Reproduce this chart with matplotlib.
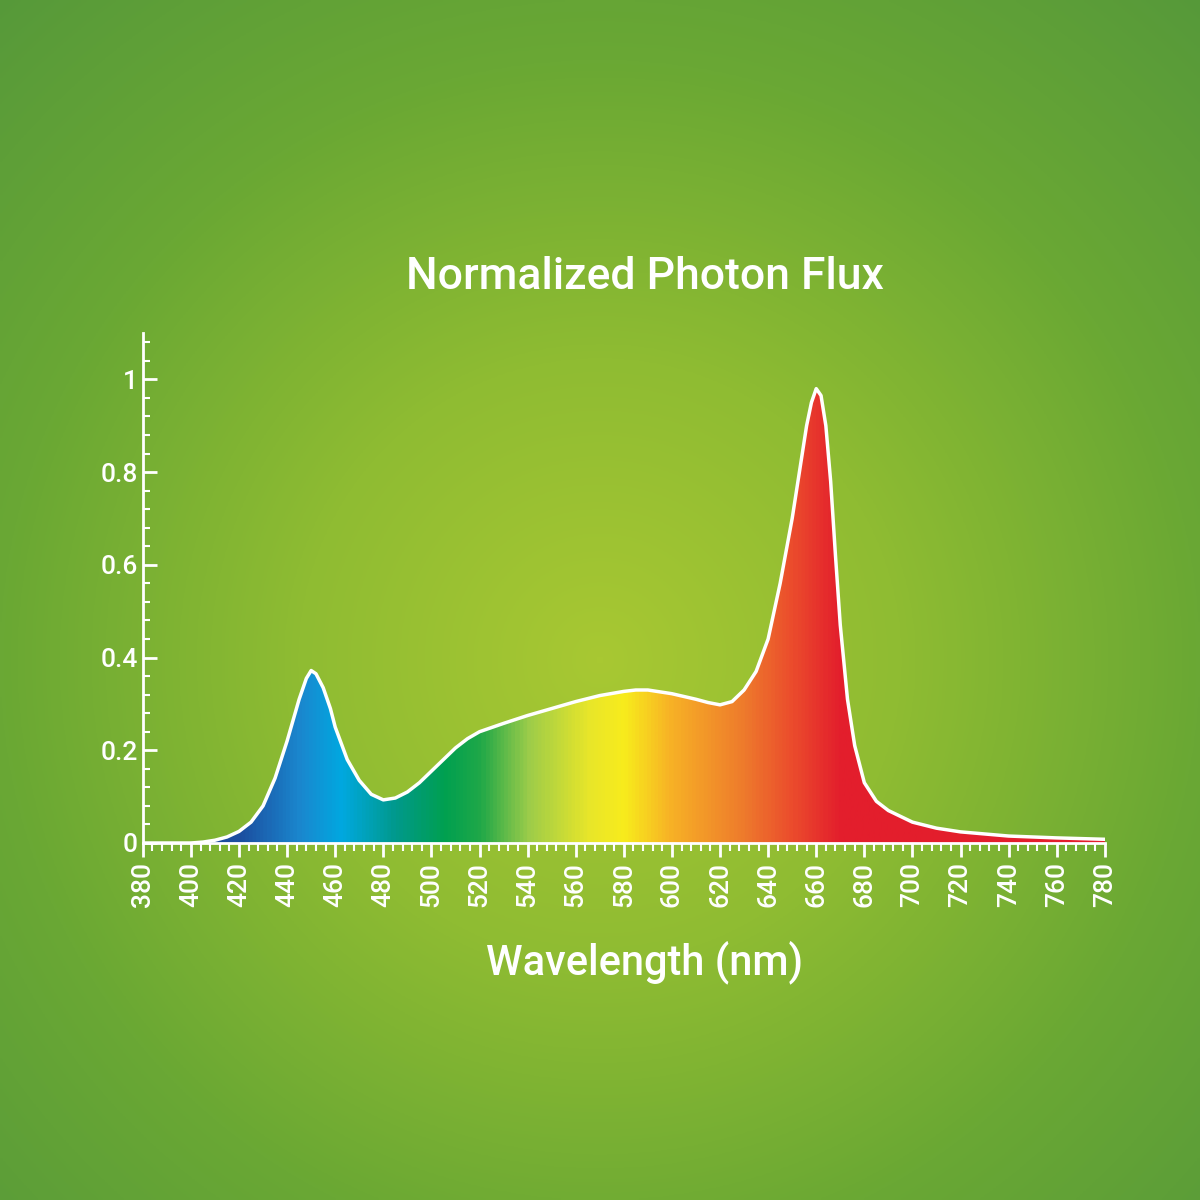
import numpy as np
import matplotlib.pyplot as plt
from matplotlib.colors import LinearSegmentedColormap

wavelength = [380, 400, 405, 410, 415, 420, 425, 430, 435, 440, 445, 448, 450, 452, 455, 458,
              460, 465, 470, 475, 480, 485, 490, 495, 500, 505, 510, 515, 520, 530, 540, 550,
              560, 570, 580, 585, 590, 600, 610, 615, 620, 625, 630, 635, 640, 645, 650, 653,
              656, 658, 660, 662, 664, 666, 668, 670, 673, 676, 680, 685, 690, 700, 710, 720,
              740, 760, 780]
flux = [0.0, 0.0, 0.002, 0.006, 0.013, 0.025, 0.045, 0.08, 0.14, 0.22, 0.31, 0.355, 0.372, 0.365,
        0.335, 0.29, 0.25, 0.18, 0.135, 0.105, 0.093, 0.097, 0.11, 0.13, 0.155, 0.18, 0.205,
        0.225, 0.24, 0.258, 0.275, 0.29, 0.305, 0.318, 0.327, 0.33, 0.33, 0.322, 0.31, 0.303,
        0.298, 0.305, 0.33, 0.37, 0.44, 0.56, 0.70, 0.80, 0.90, 0.95, 0.98, 0.965, 0.90, 0.78,
        0.62, 0.47, 0.31, 0.21, 0.13, 0.09, 0.07, 0.045, 0.032, 0.024, 0.015, 0.011, 0.008]

spec_pos = [380, 420, 445, 462, 485, 505, 520, 540, 565, 580, 600, 630, 650, 670, 780]
spec_col = ['#1c3f95', '#1c4fa0', '#1a88cf', '#00a8e0', '#00998a', '#00a050', '#20a848',
            '#9ccc4a', '#e8e62a', '#f8ec1c', '#f7b026', '#ee7a2c', '#eb4c2c', '#e31e2c', '#e31e2c']

fig = plt.figure(figsize=(12, 12), dpi=100)

# radial green background
bg = fig.add_axes([0, 0, 1, 1])
yy, xx = np.mgrid[0:1:400j, 0:1:400j]
r = np.sqrt((xx - 0.5) ** 2 + (yy - 0.55) ** 2)
bgmap = LinearSegmentedColormap.from_list('bg', ['#a8c832', '#8fbc32', '#6aa834', '#56993a'])
bg.imshow(r, cmap=bgmap, extent=[0, 1, 0, 1], aspect='auto', vmin=0, vmax=0.75)
bg.axis('off')

ax = fig.add_axes([0.119, 0.2975, 0.8017, 0.425])
ax.patch.set_alpha(0)
cmap = LinearSegmentedColormap.from_list(
    'spec', [((p - 380) / 400, c) for p, c in zip(spec_pos, spec_col)])
grad = np.linspace(0, 1, 800).reshape(1, -1)
im = ax.imshow(grad, cmap=cmap, extent=[380, 780, 0, 1.1], aspect='auto', zorder=1)
poly = ax.fill_between(wavelength, flux, 0, color='none')
im.set_clip_path(poly.get_paths()[0], transform=ax.transData)
ax.plot(wavelength, flux, color='white', lw=2.5, zorder=3, solid_joinstyle='round')

ax.set_xlim(380, 780)
ax.set_ylim(0, 1.1)
for s in ['top', 'right']:
    ax.spines[s].set_visible(False)
for s in ['left', 'bottom']:
    ax.spines[s].set_color('white')
    ax.spines[s].set_linewidth(2)

ax.set_xticks(range(380, 781, 20))
ax.set_xticks(range(380, 781, 4), minor=True)
ax.set_yticks([0, 0.2, 0.4, 0.6, 0.8, 1])
ax.set_yticklabels(['0', '0.2', '0.4', '0.6', '0.8', '1'])
ax.set_yticks(np.arange(0, 1.1, 0.04), minor=True)
ax.tick_params(axis='x', which='major', colors='white', length=10, width=2, labelsize=19,
               labelrotation=90, direction='out')
ax.tick_params(axis='x', which='minor', colors='white', length=6, width=1.5, direction='out')
ax.tick_params(axis='y', which='major', colors='white', length=10, width=2, labelsize=19,
               direction='in')
ax.tick_params(axis='y', which='minor', colors='white', length=5, width=1.5, direction='in')
for t in ax.get_xticklabels() + ax.get_yticklabels():
    t.set_fontfamily('Roboto')
    t.set_fontweight('medium')

fig.text(0.5375, 0.769, 'Normalized Photon Flux', color='white', fontsize=32,
         family='Roboto', weight='medium', ha='center', va='center')
fig.text(0.5375, 0.198, 'Wavelength (nm)', color='white', fontsize=30,
         family='Roboto', weight='medium', ha='center', va='center')

fig.savefig('out.png', dpi=100)
